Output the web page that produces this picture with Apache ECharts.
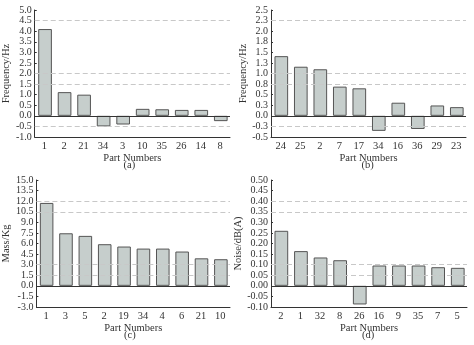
<!DOCTYPE html>
<html><head><meta charset="utf-8">
<script src="https://cdn.jsdelivr.net/npm/echarts/dist/echarts.min.js"></script>
<style>html,body{margin:0;padding:0;background:#fff}#c{width:474px;height:345px}</style>
</head><body><div id="c"></div>
<script>
// Panel (a)
const catsA = ['1','2','21','34','3','10','35','26','14','8'];
const valsA = [4.1,1.12,1.0,-0.5,-0.41,0.33,0.31,0.28,0.28,-0.25];
const refA = [4.5,2.0,1.5,-0.5];
// Panel (b)
const catsB = ['24','25','2','7','17','34','16','36','29','23'];
const valsB = [1.41,1.16,1.10,0.69,0.65,-0.355,0.31,-0.31,0.245,0.205];
const refB = [2.25,1.0,0.75,-0.25];
// Panel (c)
const catsC = ['1','3','5','2','19','34','4','6','21','10'];
const valsC = [11.75,7.45,7.08,5.9,5.57,5.28,5.28,4.86,3.9,3.77];
const refC = [12.0,10.5,3.0,1.5];
// Panel (d)
const catsD = ['2','1','32','8','26','16','9','35','7','5'];
const valsD = [0.26,0.164,0.134,0.121,-0.088,0.096,0.096,0.096,0.088,0.085];
const refD = [0.40,0.35,0.10,0.05];

const panels = [
  {cats:catsA, vals:valsA, ref:refA, min:-1, max:5, interval:0.5, dec:1, name:'Frequency/Hz', tag:'(a)',
   grid:{left:31, top:10, width:199, height:127}, nameGap:17},
  {cats:catsB, vals:valsB, ref:refB, min:-0.5, max:2.5, interval:0.25, dec:1, name:'Frequency/Hz', tag:'(b)',
   grid:{left:271, top:10, width:195, height:127}, nameGap:22},
  {cats:catsC, vals:valsC, ref:refC, min:-3, max:15, interval:1.5, dec:1, name:'Mass/Kg', tag:'(c)',
   grid:{left:32, top:180, width:198, height:127}, nameGap:21},
  {cats:catsD, vals:valsD, ref:refD, min:-0.1, max:0.5, interval:0.05, dec:2, name:'Noise/dB(A)', tag:'(d)',
   grid:{left:271, top:180, width:196, height:127}, nameGap:18}
];

const FONT = 'Liberation Serif';
const TXT = '#333';
const option = {
  animation:false,
  backgroundColor:'#fff',
  grid: panels.map(p => Object.assign({containLabel:false}, p.grid)),
  xAxis: panels.map((p,i) => ({
    type:'category', gridIndex:i, data:p.cats,
    axisLine:{onZero:false, lineStyle:{color:'#333', width:1}},
    axisTick:{inside:true, length:3, alignWithLabel:true, lineStyle:{color:'#333'}},
    axisLabel:{fontFamily:FONT, fontSize:10.5, color:TXT, margin:4, interval:0},
    name:'Part Numbers', nameLocation:'middle', nameGap:13,
    nameTextStyle:{fontFamily:FONT, fontSize:10.5, color:TXT}
  })),
  yAxis: panels.map((p,i) => ({
    type:'value', gridIndex:i, min:p.min, max:p.max, interval:p.interval,
    axisLine:{show:true, lineStyle:{color:'#333', width:1}},
    axisTick:{show:true, inside:true, length:2, lineStyle:{color:'#333'}},
    splitLine:{show:false},
    axisLabel:{fontFamily:FONT, fontSize:10, color:TXT, margin:3,
      showMinLabel:true, showMaxLabel:true, hideOverlap:false,
      formatter: v => (Math.abs(v) < 1e-9 ? 0 : v).toFixed(p.dec)},
    name:p.name, nameLocation:'middle', nameGap:p.nameGap,
    nameTextStyle:{fontFamily:FONT, fontSize:10.5, color:TXT}
  })),
  series: [].concat(...panels.map((p,i) => ([
    {type:'bar', xAxisIndex:i, yAxisIndex:i, data:[], z:1, silent:true,
     markLine:{silent:true, symbol:'none', label:{show:false},
       lineStyle:{type:[5,3], color:'#c8c8c8', width:1},
       data:p.ref.map(v => ({yAxis:v}))}},
    {type:'bar', xAxisIndex:i, yAxisIndex:i, data:p.vals, barWidth:'70%', z:3,
     itemStyle:{color:'#c6cecc', borderColor:'#555', borderWidth:1},
     markLine:{silent:true, symbol:'none', label:{show:false}, z:5,
       lineStyle:{type:'solid', color:'#333', width:1},
       data:[{yAxis:0}]}}
  ]))),
  graphic: panels.map(p => ({
    type:'text', left: p.grid.left + p.grid.width/2 - 7, top: p.grid.top + p.grid.height + 23,
    style:{text:p.tag, font:'10.5px "Liberation Serif"', fill:TXT}
  }))
};
const chart = echarts.init(document.getElementById('c'), null, {renderer:'canvas'});
chart.setOption(option);
</script></body></html>
